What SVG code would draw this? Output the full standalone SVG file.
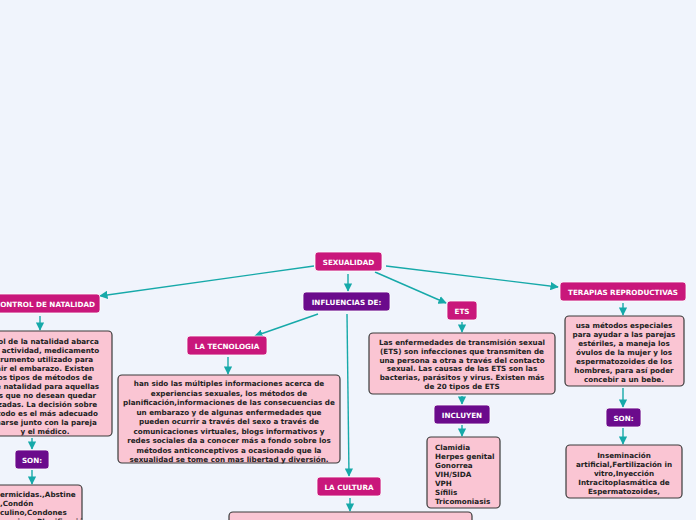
<svg xmlns="http://www.w3.org/2000/svg" width="696" height="520" viewBox="0 0 696 520">
<style>
.t{font-family:"DejaVu Sans",Verdana,sans-serif;font-weight:bold;}
.lbl{fill:#fff;font-size:7.2px;text-anchor:middle;}
.tx{fill:#222;font-size:7.2px;text-anchor:middle;}
.mg{fill:#c9177b;stroke:#fff;stroke-width:0.8;}
.pu{fill:#6b0b8c;stroke:#fff;stroke-width:0.8;}
.pk{fill:#fac5d3;stroke:#3a3a3a;stroke-width:1.2;}
.c{stroke:#16a9a9;stroke-width:1.4;fill:none;marker-end:url(#a);}
</style>
<defs><marker id="a" viewBox="0 0 10 10" refX="9" refY="5" markerWidth="6" markerHeight="6" orient="auto"><path d="M0,0L10,5L0,10z" fill="#16a9a9"/></marker></defs>
<rect width="696" height="520" fill="#f0f4fc"/>
<g id="connectors">
<path class="c" d="M314,266L100,296"/>
<path class="c" d="M348,274L348,291"/>
<path class="c" d="M375,272L446,303"/>
<path class="c" d="M386,266L558,287"/>
<path class="c" d="M40,316L40,330"/>
<path class="c" d="M318,314L255,336"/>
<path class="c" d="M347,314L349,476"/>
<path class="c" d="M462,322L462,332"/>
<path class="c" d="M462,396L462,404"/>
<path class="c" d="M462,425L462,436"/>
<path class="c" d="M32,438L32,449"/>
<path class="c" d="M32,470L32,484"/>
<path class="c" d="M228,357L228,374"/>
<path class="c" d="M350,498L350,511"/>
<path class="c" d="M623,303L623,315"/>
<path class="c" d="M623,388L623,407"/>
<path class="c" d="M623,428L623,444"/>
</g>
<g id="sexualidad"><rect class="mg" x="315" y="252" width="67" height="19" rx="3"/><text class="t lbl" x="348.5" y="264.5">SEXUALIDAD</text></g>
<g id="control"><rect class="mg" x="-10" y="294" width="110" height="19" rx="3"/><text class="t lbl" x="45" y="306.5">CONTROL DE NATALIDAD</text></g>
<g id="influencias"><rect class="pu" x="303" y="292" width="87" height="19" rx="3"/><text class="t lbl" x="346.5" y="304.5">INFLUENCIAS DE:</text></g>
<g id="ets"><rect class="mg" x="447" y="301" width="30" height="19" rx="3"/><text class="t lbl" x="462" y="313.5">ETS</text></g>
<g id="terapias"><rect class="mg" x="560" y="282" width="126" height="19" rx="3"/><text class="t lbl" x="623" y="294.5">TERAPIAS REPRODUCTIVAS</text></g>
<g id="tecnologia"><rect class="mg" x="187" y="336" width="80" height="19" rx="3"/><text class="t lbl" x="227" y="348.5">LA TECNOLOGIA</text></g>
<g id="cultura"><rect class="mg" x="317" y="477" width="64" height="19" rx="3"/><text class="t lbl" x="349" y="489.5">LA CULTURA</text></g>
<g id="incluyen"><rect class="pu" x="434" y="405" width="56" height="19" rx="3"/><text class="t lbl" x="462" y="417.5">INCLUYEN</text></g>
<g id="son1"><rect class="pu" x="15" y="450" width="34" height="19" rx="3"/><text class="t lbl" x="32" y="462.5">SON:</text></g>
<g id="son2"><rect class="pu" x="606" y="408" width="35" height="19" rx="3"/><text class="t lbl" x="623.5" y="420.5">SON:</text></g>
<g id="controltext"><rect class="pk" x="-10" y="331" width="122" height="105" rx="4"/>
<text class="t tx"><tspan x="45" y="344">trol de la natalidad abarca</tspan><tspan x="45" y="353">er actividad, medicamento</tspan><tspan x="45" y="362">trumento utilizado para</tspan><tspan x="45" y="371">nir el embarazo. Existen</tspan><tspan x="45" y="380">os tipos de métodos de</tspan><tspan x="45" y="389">de natalidad para aquellas</tspan><tspan x="45" y="398">es que no desean quedar</tspan><tspan x="45" y="407">azadas. La decisión sobre</tspan><tspan x="45" y="416">étodo es el más adecuado</tspan><tspan x="45" y="425">marse junto con la pareja</tspan><tspan x="45" y="434">y el médico.</tspan></text></g>
<g id="tectext"><rect class="pk" x="118" y="375" width="222" height="88" rx="4"/>
<text class="t tx"><tspan x="229" y="386">han sido las múltiples informaciones acerca de</tspan><tspan x="229" y="395.5">experiencias sexuales,  los métodos de</tspan><tspan x="229" y="405">planificación,informaciones de las consecuencias de</tspan><tspan x="229" y="414.5">un embarazo y de algunas enfermedades que</tspan><tspan x="229" y="424">pueden ocurrir a través del sexo  a través de</tspan><tspan x="229" y="433.5">comunicaciones virtuales, blogs informativos y</tspan><tspan x="229" y="443">redes sociales da a conocer más a fondo sobre los</tspan><tspan x="229" y="452.5">métodos anticonceptivos a ocasionado que la</tspan><tspan x="229" y="462">sexualidad se tome con mas libertad y diversión.</tspan></text></g>
<g id="etstext"><rect class="pk" x="369" y="333" width="186" height="61" rx="4"/>
<text class="t tx"><tspan x="462" y="345">Las enfermedades de transmisión sexual</tspan><tspan x="462" y="353.8">(ETS) son infecciones que transmiten de</tspan><tspan x="462" y="362.6">una persona a otra a través del contacto</tspan><tspan x="462" y="371.4">sexual. Las causas de las ETS son las</tspan><tspan x="462" y="380.2">bacterias, parásitos y virus. Existen más</tspan><tspan x="462" y="389">de 20 tipos de ETS</tspan></text></g>
<g id="lista"><rect class="pk" x="427" y="437" width="73" height="71" rx="4"/>
<text class="t tx" style="text-anchor:start"><tspan x="435" y="450">Clamidia</tspan><tspan x="435" y="459">Herpes genital</tspan><tspan x="435" y="468">Gonorrea</tspan><tspan x="435" y="477">VIH/SIDA</tspan><tspan x="435" y="486">VPH</tspan><tspan x="435" y="495">Sífilis</tspan><tspan x="435" y="504">Tricomoniasis</tspan></text></g>
<g id="terapiastext"><rect class="pk" x="565" y="316" width="119" height="70" rx="4"/>
<text class="t tx"><tspan x="624" y="328">usa métodos especiales</tspan><tspan x="624" y="337">para ayudar a las parejas</tspan><tspan x="624" y="346">estériles, a maneja los</tspan><tspan x="624" y="355">óvulos de la mujer y los</tspan><tspan x="624" y="364">espermatozoides de los</tspan><tspan x="624" y="373">hombres, para así poder</tspan><tspan x="624" y="382">concebir a un bebe.</tspan></text></g>
<g id="sontext"><rect class="pk" x="566" y="445" width="116" height="53" rx="4"/>
<text class="t tx"><tspan x="624" y="458">Inseminación</tspan><tspan x="624" y="467">artificial,Fertilización in</tspan><tspan x="624" y="476">vitro,Inyección</tspan><tspan x="624" y="485">Intracitoplasmática de</tspan><tspan x="624" y="494">Espermatozoides,</tspan></text></g>
<g id="metodos"><rect class="pk" x="-10" y="485" width="92" height="45" rx="4"/>
<text class="t tx" style="text-anchor:start"><tspan x="0" y="497">ermicidas.,Abstine</tspan><tspan x="0" y="506">,Condón</tspan><tspan x="0" y="515">culino,Condones</tspan><tspan x="0" y="524">meninos,Planificació</tspan></text></g>
<g id="culturatext"><rect class="pk" x="229" y="512" width="243" height="20" rx="4"/></g>
</svg>
